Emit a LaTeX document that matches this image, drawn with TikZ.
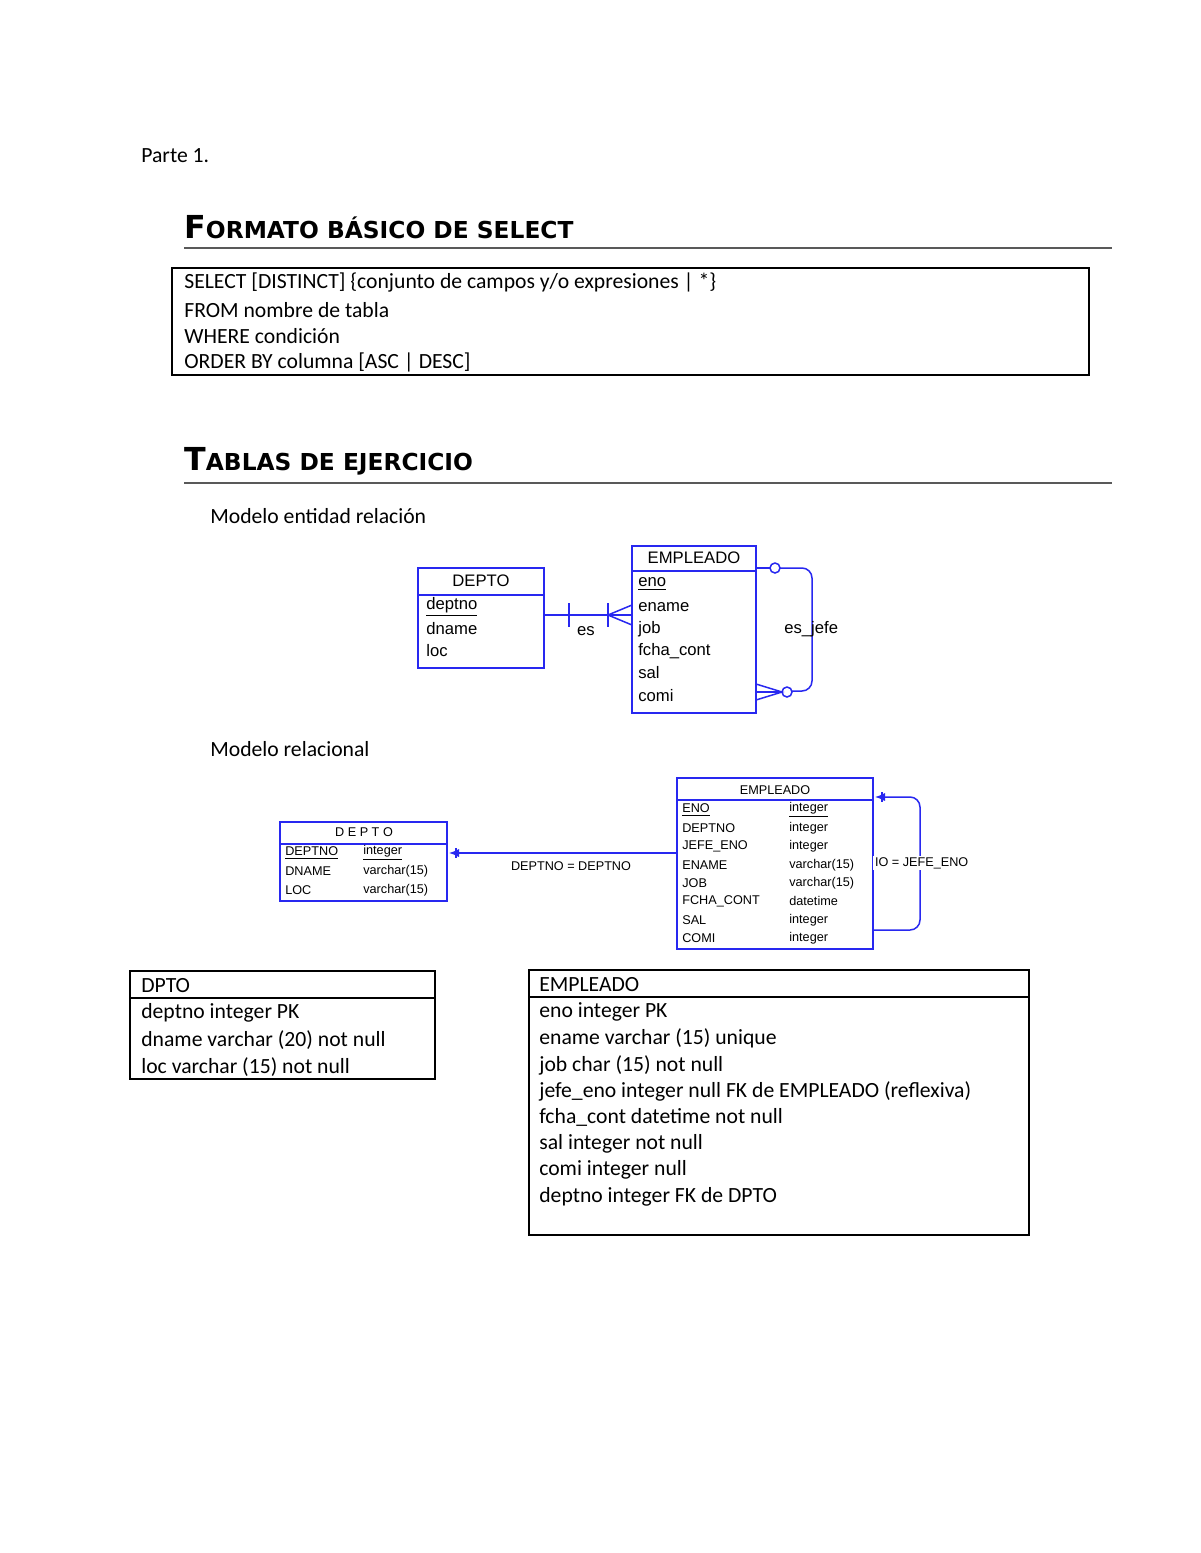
\documentclass[tikz,border=0pt]{standalone}
\usepackage{fontspec}
\setmainfont{Carlito}
\newfontfamily\arial{Liberation Sans}
\newfontfamily\hd{DejaVu Sans}
\usetikzlibrary{arrows.meta}
\definecolor{erblue}{RGB}{40,40,240}
\begin{document}
\begin{tikzpicture}[x=0.6pt,y=-0.6pt,
  body/.style={anchor=west,inner sep=0pt,font=\fontsize{13}{15}\selectfont},
  er/.style={anchor=west,inner sep=0pt,font=\arial\fontsize{10}{12}\selectfont},
  rel/.style={anchor=west,inner sep=0pt,font=\arial\fontsize{7.6}{9}\selectfont},
  heading/.style={anchor=west,inner sep=0pt},
  bl/.style={draw=erblue,line width=0.9pt},
  blk/.style={draw=black,line width=1.3pt}]
\useasboundingbox (0,0) rectangle (1200,1553);
\fill[white] (0,0) rectangle (1200,1553);
\newcommand\hsc[2]{{\hd\bfseries\fontsize{19}{22}\selectfont #1\fontsize{14}{16}\selectfont #2}}
\node[body] (p1) at (141,156) {Parte 1.};
\node[heading] (h1) at (184,227) {\hsc{F}{ORMATO BÁSICO DE SELECT}};
\draw[gray!70!black,line width=1.2pt] (184,248) -- (1112,248);
\node[blk,minimum width=917*0.6pt,minimum height=107*0.6pt,inner sep=0pt] (sel) at (630.5,321.5) {};
\node[body] (s1) at (184,283) {SELECT [DISTINCT] \{conjunto de campos y/o expresiones | *\}};
\node[body] (s2) at (184,310) {FROM nombre de tabla};
\node[body] (s3) at (184,336) {WHERE condición};
\node[body] (s4) at (184,362) {ORDER BY columna [ASC | DESC]};
\node[heading] (h2) at (184,461) {\hsc{T}{ABLAS DE EJERCICIO}};
\draw[gray!70!black,line width=1.2pt] (184,483) -- (1112,483);
\node[body] (m1) at (210,516) {Modelo entidad relación};
% ER DEPTO
\draw[bl] (418,568) rectangle (544,668); \draw[bl] (418,595) -- (544,595);
\node[er,anchor=center] (d0) at (481,581) {DEPTO};
\node[er] (d1) at (426,607) {\underline{deptno}};
\node[er] (d2) at (426,629) {dname};
\node[er] (d3) at (426,651) {loc};
% ER EMPLEADO
\draw[bl] (632,546) rectangle (756,713); \draw[bl] (632,571) -- (756,571);
\node[er,anchor=center] (e0) at (694,558) {EMPLEADO};
\foreach \t/\y [count=\i] in {\underline{eno}/584,ename/607,job/629,fcha\_cont/651,sal/673,comi/696}
  \node[er] (e\i) at (638,\y) {\t};
% es
\draw[bl] (544,615) -- (632,615);
\draw[bl] (569,603) -- (569,627); \draw[bl] (608,603) -- (608,627);
\draw[bl] (632,605) -- (608,615) -- (632,625);
\node[er,anchor=center] (es) at (586,631) {es};
% es_jefe
\draw[bl] (756,568) -- (770,568); \draw[bl] (775,568) circle (5);
\draw[bl] (780,568) -- (802,568) arc (-90:0:10) -- (812,681) arc (0:90:10) -- (792,691);
\draw[bl] (787,692) circle (5);
\draw[bl] (756,684) -- (782,692) -- (756,700); \draw[bl] (756,692) -- (782,692);
\node[er] (ej) at (784,629) {es\_jefe};
\node[body] (m2) at (210,749) {Modelo relacional};
% REL DEPTO
\draw[bl] (280,822) rectangle (447,901); \draw[bl] (280,844) -- (447,844);
\node[rel,anchor=center] (rd0) at (364,832) {D E P T O};
\node[rel] (rd1) at (285,853) {\underline{DEPTNO}}; \node[rel] at (363,853) {\underline{integer}};
\node[rel] (rd2) at (285,871) {DNAME}; \node[rel] at (363,871) {varchar(15)};
\node[rel] (rd3) at (285,890) {LOC}; \node[rel] at (363,890) {varchar(15)};
% REL EMPLEADO
\draw[bl] (677,778) rectangle (873,949); \draw[bl] (677,800) -- (873,800);
\node[rel,anchor=center] (re0) at (775,790) {EMPLEADO};
\foreach \a/\b/\y [count=\i] in {\underline{ENO}/\underline{integer}/810,DEPTNO/integer/828,JEFE\_ENO/integer/846,ENAME/varchar(15)/865,JOB/varchar(15)/883,FCHA\_CONT/datetime/901,SAL/integer/920,COMI/integer/938}
  {\node[rel] (ra\i) at (682,\y) {\a}; \node[rel] (rb\i) at (789,\y) {\b};}
\draw[bl,-{Latex[length=6pt,width=5pt]}] (677,853) -- (449,853);
\draw[bl,line width=1.6pt] (456,848) -- (456,858);
\node[rel,anchor=center] (lb1) at (571,866) {DEPTNO = DEPTNO};
\draw[bl,-{Latex[length=6pt,width=5pt]}] (873,930) -- (910,930) arc (90:0:10) -- (920,807) arc (0:-90:10) -- (875,797);
\draw[bl,line width=1.6pt] (882,792) -- (882,802);
\node[rel,fill=white,inner sep=1pt] (lb2) at (873,863) {IO = JEFE\_ENO};
% DPTO table
\draw[blk] (130,971) rectangle (435,1079); \draw[blk] (130,998) -- (435,998);
\node[body] (t0) at (141,986) {DPTO};
\node[body] (t1) at (141,1013) {deptno integer PK};
\node[body] (t2) at (141,1040) {dname varchar (20) not null};
\node[body] (t3) at (141,1067) {loc varchar (15) not null};
% EMPLEADO table
\draw[blk] (529,970) rectangle (1029,1235); \draw[blk] (529,997) -- (1029,997);
\node[body] (u0) at (539,985) {EMPLEADO};
\foreach \t/\y [count=\i] in {eno integer PK/1012,ename varchar (15) unique/1038,job char (15) not null/1065,jefe\_eno integer null FK de EMPLEADO (reflexiva)/1091,fcha\_cont datetime not null/1117,sal integer not null/1144,comi integer null/1170,deptno integer FK de DPTO/1197}
  \node[body] (u\i) at (539,\y) {\t};
\end{tikzpicture}
\end{document}
